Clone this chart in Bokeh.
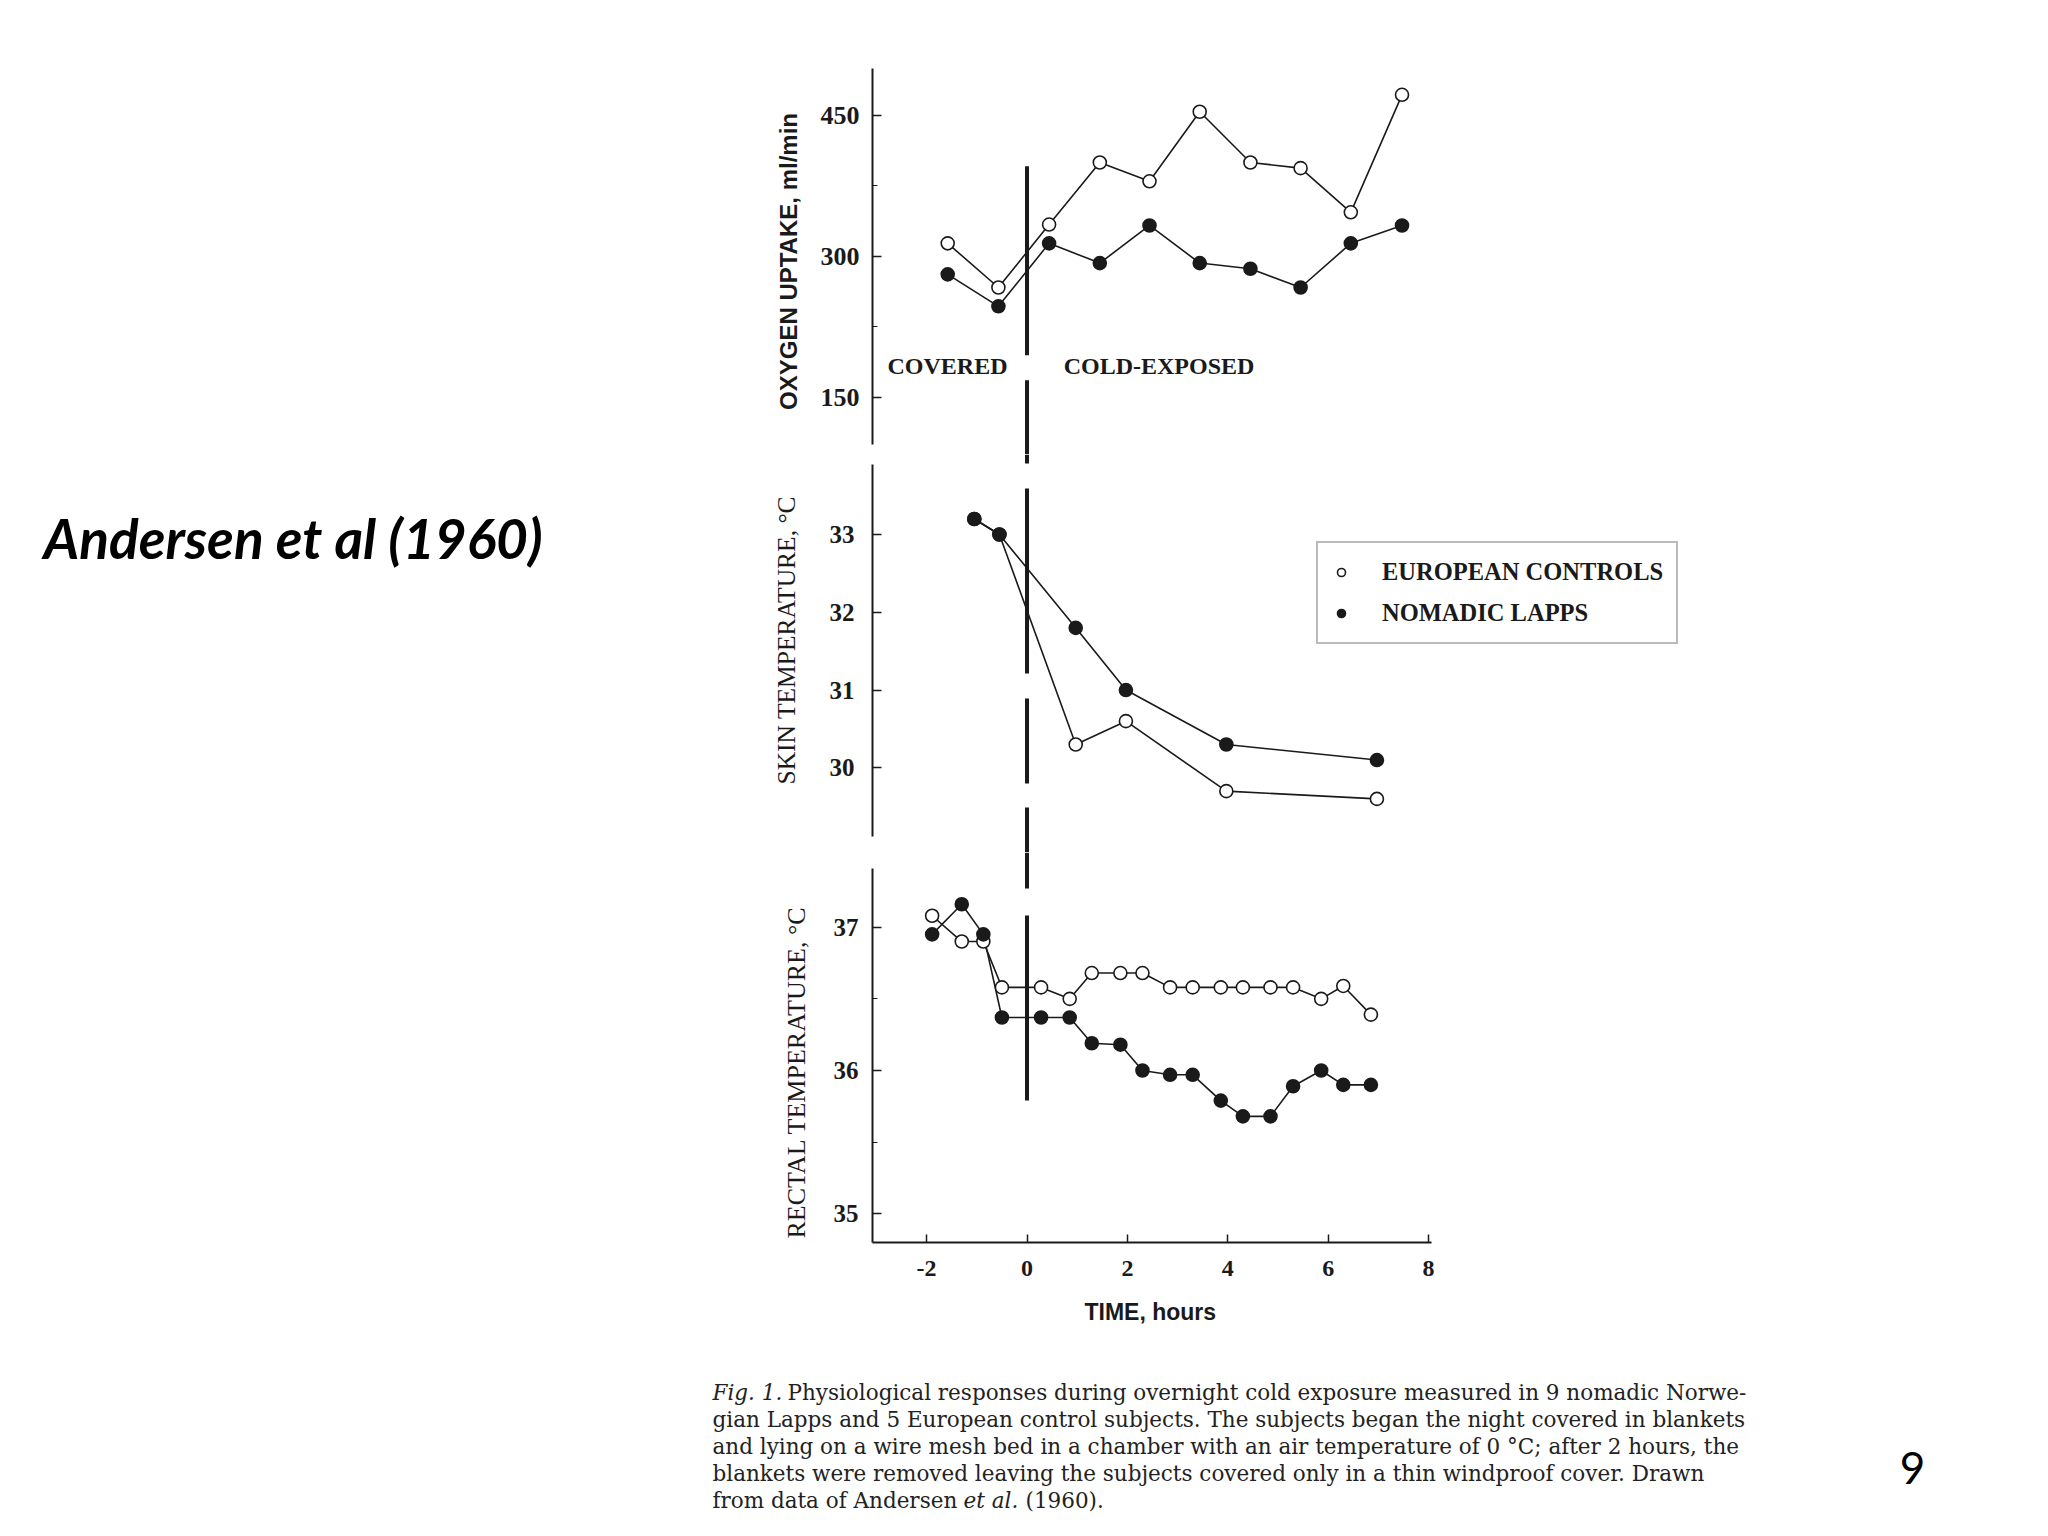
from bokeh.plotting import figure
from bokeh.layouts import row, column
from bokeh.models import Range1d, FixedTicker, Legend, LegendItem, Title
from bokeh.core.properties import value
from bokeh.embed import file_html
from bokeh.resources import INLINE

# ---------------- data ----------------
time_ticks = [-2, 0, 2, 4, 6, 8]

o2_time = [-1.58, -0.57, 0.44, 1.45, 2.44, 3.44, 4.45, 5.45, 6.45, 7.47]
o2_euro = [314, 267, 334, 400, 380, 454, 400, 394, 347, 472]
o2_lapp = [281, 247, 314, 293, 333, 293, 287, 267, 314, 333]
o2_ticks = [150, 300, 450]
o2_minor = [225, 375]

skin_time = [-1.05, -0.55, 0.97, 1.97, 3.97, 6.97]
skin_euro = [33.2, 33.0, 30.3, 30.6, 29.7, 29.6]
skin_lapp = [33.2, 33.0, 31.8, 31.0, 30.3, 30.1]
skin_ticks = [30, 31, 32, 33]

rect_time = [-1.89, -1.30, -0.87, -0.50, 0.28, 0.85, 1.29, 1.86, 2.30, 2.85,
             3.30, 3.86, 4.30, 4.85, 5.30, 5.86, 6.30, 6.85]
rect_euro = [37.08, 36.90, 36.90, 36.58, 36.58, 36.50, 36.68, 36.68, 36.68, 36.58,
             36.58, 36.58, 36.58, 36.58, 36.58, 36.50, 36.59, 36.39]
rect_lapp = [36.95, 37.16, 36.95, 36.37, 36.37, 36.37, 36.19, 36.18, 36.00, 35.97,
             35.97, 35.79, 35.68, 35.68, 35.89, 36.00, 35.90, 35.90]
rect_ticks = [35, 36, 37]
rect_minor = [35.5, 36.5]

cold_start = 0          # blankets removed at t = 0
series_names = ["EUROPEAN CONTROLS", "NOMADIC LAPPS"]
phase_names = ["COVERED", "COLD-EXPOSED"]

caption_lines = [
    "Physiological responses during overnight cold exposure measured in 9 nomadic Norwe-",
    "gian Lapps and 5 European control subjects. The subjects began the night covered in blankets",
    "and lying on a wire mesh bed in a chamber with an air temperature of 0 \u00b0C; after 2 hours, the",
    "blankets were removed leaving the subjects covered only in a thin windproof cover. Drawn",
    "from data of Andersen",
]

# ---------------- styles ----------------
INK = "#1a1a1a"
SERIF = "Liberation Serif"
SANS = "Liberation Sans"
MARK = 13

xr = Range1d(-3.078, 13.615)


def panel(height, yr, mbt, mbb, xloc=None):
    p = figure(width=1012, height=height, x_range=xr, y_range=yr,
               output_backend="svg", toolbar_location=None,
               min_border_left=164, min_border_right=10,
               min_border_top=mbt, min_border_bottom=mbb,
               x_axis_location=xloc)
    p.outline_line_color = None
    p.grid.visible = False
    p.background_fill_color = "white"
    p.border_fill_color = "white"
    ax = p.yaxis[0]
    ax.axis_line_color = INK
    ax.axis_line_width = 2
    ax.major_tick_in = 9
    ax.major_tick_out = 0
    ax.minor_tick_in = 5
    ax.minor_tick_out = 0
    ax.major_tick_line_color = INK
    ax.minor_tick_line_color = INK
    ax.major_tick_line_width = 1.5
    ax.major_label_text_font = SERIF
    ax.major_label_text_font_style = "bold"
    ax.major_label_text_font_size = "25px"
    ax.major_label_text_color = INK
    ax.axis_label_text_color = INK
    return p


def side_title(p, text, where, offset, standoff, font, size, style):
    t = Title(text=text, align="left", offset=offset, text_font=font,
              text_font_size=size, text_font_style=style, text_color=INK)
    try:
        t.standoff = standoff
    except AttributeError:
        pass
    p.add_layout(t, where)
    return t


def draw(p, t, euro, lapp):
    p.line(t, euro, line_color=INK, line_width=1.6)
    p.line(t, lapp, line_color=INK, line_width=1.6)
    r_open = p.scatter(t, euro, size=MARK, fill_color="white", line_color=INK, line_width=1.6)
    r_fill = p.scatter(t, lapp, size=MARK, fill_color=INK, line_color=INK, line_width=1.6)
    return r_open, r_fill


# ---- top: oxygen uptake ----
top = panel(454, Range1d(89.36, 500), 68, 0)
top.yaxis.bounds = (100, 500)
top.yaxis.ticker = FixedTicker(ticks=o2_ticks, minor_ticks=o2_minor)
top.yaxis.major_label_text_font_size = "26px"
top.yaxis.axis_label = "OXYGEN UPTAKE, ml/min"
top.yaxis.axis_label_text_font = SANS
top.yaxis.axis_label_text_font_style = "bold"
top.yaxis.axis_label_text_font_size = "24px"
top.yaxis.major_label_standoff = 13
top.yaxis.axis_label_standoff = 16
top.segment(x0=[cold_start], y0=[396], x1=[cold_start], y1=[89.36],
            line_color=INK, line_width=4, line_dash="189 25")
draw(top, o2_time, o2_euro, o2_lapp)
top.text(x=[-2.78, 0.73], y=[183, 183], text=phase_names,
         text_font=value(SERIF), text_font_style="bold", text_font_size="24px",
         text_color=INK, text_baseline="alphabetic", text_align="left")

# ---- middle: skin temperature ----
mid = panel(398, Range1d(28.911, 34.029), 0, 0)
mid.yaxis.bounds = (29.117, 33.90)
mid.yaxis.ticker = FixedTicker(ticks=skin_ticks, minor_ticks=[])
mid.yaxis.major_label_standoff = 18
side_title(mid, "SKIN TEMPERATURE, \u00b0C", "left", 68, 51, SERIF, "25.5px", "normal")
mid.segment(x0=[cold_start], y0=[34.029], x1=[cold_start], y1=[28.911],
            line_color=INK, line_width=4, line_dash="9 25 185 25 85 24 81 400")
m_open, m_fill = draw(mid, skin_time, skin_euro, skin_lapp)
legend = Legend(items=[LegendItem(label=series_names[0], renderers=[m_open]),
                       LegendItem(label=series_names[1], renderers=[m_fill])],
                location=(444, 208))
legend.label_text_font = SERIF
legend.label_text_font_style = "bold"
legend.label_text_font_size = "24.5px"
legend.label_text_color = INK
legend.glyph_width = 20
legend.glyph_height = 20
legend.label_height = 32
legend.spacing = 9
legend.padding = 13
legend.label_standoff = 31
legend.margin = 0
legend.border_line_color = "#777777"
legend.border_line_width = 2
legend.background_fill_color = "white"
legend.background_fill_alpha = 1
mid.add_layout(legend)

# ---- bottom: rectal temperature ----
bot = panel(490, Range1d(34.7997, 37.5213), 0, 100, xloc="below")
bot.yaxis.bounds = (34.7997, 37.41)
bot.yaxis.ticker = FixedTicker(ticks=rect_ticks, minor_ticks=rect_minor)
bot.yaxis.major_label_standoff = 14
side_title(bot, "RECTAL TEMPERATURE, \u00b0C", "left", 4, 40, SERIF, "26px", "normal")
xa = bot.xaxis[0]
xa.bounds = (-3.078, 8.05)
xa.ticker = FixedTicker(ticks=time_ticks, minor_ticks=[])
xa.major_label_overrides = {t: str(t) for t in time_ticks}
xa.axis_line_color = INK
xa.axis_line_width = 2
xa.major_tick_in = 8
xa.major_tick_out = 0
xa.major_tick_line_color = INK
xa.major_tick_line_width = 1.5
xa.major_label_text_font = SERIF
xa.major_label_text_font_style = "bold"
xa.major_label_text_font_size = "24px"
xa.major_label_text_color = INK
xa.major_label_standoff = 18
side_title(bot, "TIME, hours", "below", 212, 36, SANS, "23px", "bold")
bot.segment(x0=[cold_start], y0=[37.5213], x1=[cold_start], y1=[35.79],
            line_color=INK, line_width=4, line_dash="36 27 400 27")
draw(bot, rect_time, rect_euro, rect_lapp)

# ---- left: slide title ----
left = figure(width=708, height=1342, x_range=Range1d(0, 708), y_range=Range1d(1342, 0),
              output_backend="svg", toolbar_location=None, min_border=0,
              x_axis_location=None, y_axis_location=None)
left.outline_line_color = None
left.grid.visible = False
left.text(x=[43], y=[537], text=["Andersen et al (1960)"], text_font=value("Lato"),
          text_font_style="bold italic", text_font_size="55px", text_color="black",
          text_baseline="alphabetic", text_align="left")

# ---- caption & page number ----
cap = figure(width=2032, height=186, x_range=Range1d(0, 2032), y_range=Range1d(186, 0),
             output_backend="svg", toolbar_location=None, min_border=0,
             x_axis_location=None, y_axis_location=None)
cap.outline_line_color = None
cap.grid.visible = False
cap_kw = dict(text_font=value("DejaVu Serif"), text_font_size="21.5px", text_color="#222222",
              text_baseline="alphabetic", text_align="left")
cap.text(x=[712], y=[50], text=["Fig. 1."], text_font_style="italic", **cap_kw)
cap.text(x=[787, 712, 712, 712, 712], y=[50, 77, 104, 131, 158], text=caption_lines, **cap_kw)
cap.text(x=[963], y=[158], text=["et al."], text_font_style="italic", **cap_kw)
cap.text(x=[1025], y=[158], text=["(1960)."], **cap_kw)
cap.text(x=[1912], y=[125], text=["9"], text_font=value("Lato"), text_font_size="44px",
         text_color="black", text_baseline="alphabetic", text_align="center")

layout = column(row(left, column(top, mid, bot)), cap)
open("out.html", "w").write(file_html(layout, INLINE))
